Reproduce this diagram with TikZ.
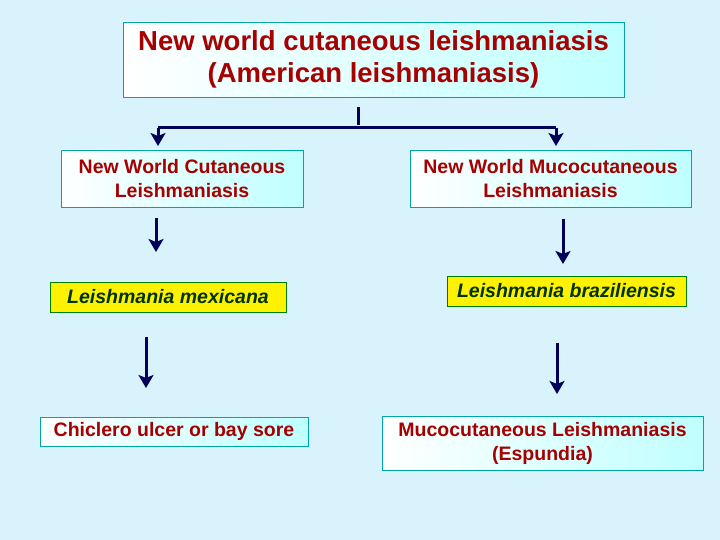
\documentclass[tikz,border=0pt]{standalone}
\usepackage{fontspec}
\setmainfont{Liberation Sans}
\usetikzlibrary{arrows.meta}
\begin{document}
\begin{tikzpicture}[x=1pt,y=-1pt,
  box/.style={draw=teal!70!cyan,line width=0.6pt,left color=white,right color=cyan!25,text=red!65!black,font=\bfseries\fontsize{19.5}{24}\selectfont,align=center,inner sep=0pt},
  ybox/.style={draw=green!50!black,line width=0.6pt,fill=yellow,text=black!80!green,font=\bfseries\itshape\fontsize{19.5}{22}\selectfont,inner sep=0pt},
  arr/.style={draw=blue!35!black,line width=3pt,-{Stealth[length=13pt,width=15pt,inset=3pt]}},
  ln/.style={draw=blue!35!black,line width=3pt}]
\fill[cyan!15] (0,0) rectangle (720,540);
\useasboundingbox (0,0) rectangle (720,540);
\node[box,minimum width=501,minimum height=75,font=\bfseries\fontsize{27.5}{32}\selectfont] (t) at (373.5,59.5) {New world cutaneous leishmaniasis\\(American leishmaniasis)};
\node[box,minimum width=242,minimum height=57] (l1) at (182,178.5) {New World Cutaneous\\Leishmaniasis};
\node[box,minimum width=281,minimum height=57] (r1) at (550.5,178.5) {New World Mucocutaneous\\Leishmaniasis};
\node[ybox,minimum width=236,minimum height=30] (l2) at (168,297) {Leishmania mexicana};
\node[ybox,minimum width=239,minimum height=30] (r2) at (566.5,291) {Leishmania braziliensis};
\node[box,minimum width=268,minimum height=29] (l3) at (174,431.5) {Chiclero ulcer or bay sore};
\node[box,minimum width=321,minimum height=54] (r3) at (542.5,443) {Mucocutaneous Leishmaniasis\\(Espundia)};
\coordinate (s1) at (358,107);
\coordinate (s2) at (358,125);
\coordinate (hl) at (158,128);
\coordinate (hr) at (556,128);
\coordinate (al) at (158,146);
\coordinate (ar) at (556,146);
\draw[ln] (s1) -- (s2);
\draw[ln] (hl) -- (hr);
\draw[arr] (hr) -- (ar);
\draw[arr] (hl) -- (al);
\coordinate (a1) at (156,218); \coordinate (b1) at (156,252);
\coordinate (a2) at (563,219); \coordinate (b2) at (563,264);
\coordinate (a3) at (146,337); \coordinate (b3) at (146,388);
\coordinate (a4) at (557,343); \coordinate (b4) at (557,394);
\draw[arr] (a1) -- (b1);
\draw[arr] (a2) -- (b2);
\draw[arr] (a3) -- (b3);
\draw[arr] (a4) -- (b4);
\end{tikzpicture}
\end{document}
